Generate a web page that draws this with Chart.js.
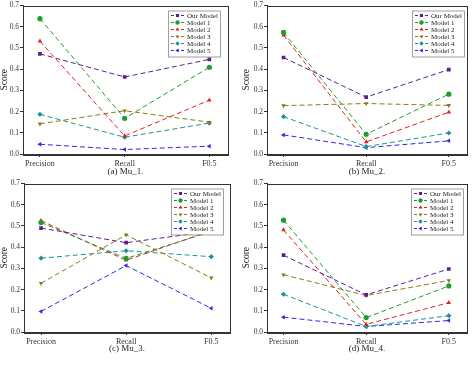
<!DOCTYPE html>
<html>
<head>
<meta charset="utf-8">
<script src="https://cdn.jsdelivr.net/npm/chart.js@4/dist/chart.umd.min.js"></script>
<style>
  html, body { margin: 0; padding: 0; background: #fff; }
  body { width: 474px; height: 367px; position: relative; overflow: hidden; }
  canvas { position: absolute; }
</style>
</head>
<body>
<canvas id="c1"></canvas>
<canvas id="c2"></canvas>
<canvas id="c3"></canvas>
<canvas id="c4"></canvas>
<script>
// categorias y modelos
const metrics = ['Precision', 'Recall', 'F0.5'];
const models = ['Our Model', 'Model 1', 'Model 2', 'Model 3', 'Model 4', 'Model 5'];
const yTicks = [0, 0.1, 0.2, 0.3, 0.4, 0.5, 0.6, 0.7];

// valores (una fila por modelo)
const mu1Scores = [
  [0.472, 0.363, 0.446],
  [0.638, 0.168, 0.409],
  [0.532, 0.085, 0.254],
  [0.142, 0.204, 0.150],
  [0.187, 0.079, 0.146],
  [0.046, 0.021, 0.037],
];
const mu2Scores = [
  [0.455, 0.268, 0.398],
  [0.573, 0.093, 0.282],
  [0.560, 0.057, 0.197],
  [0.228, 0.238, 0.229],
  [0.176, 0.035, 0.099],
  [0.090, 0.030, 0.062],
];
const mu3Scores = [
  [0.490, 0.421, 0.475],
  [0.516, 0.347, 0.473],
  [0.525, 0.338, 0.478],
  [0.230, 0.458, 0.255],
  [0.348, 0.383, 0.355],
  [0.097, 0.313, 0.112],
];
const mu4Scores = [
  [0.362, 0.175, 0.297],
  [0.527, 0.068, 0.217],
  [0.481, 0.036, 0.138],
  [0.270, 0.172, 0.243],
  [0.178, 0.026, 0.077],
  [0.070, 0.026, 0.054],
];

// estilo de cada serie
const colors = ['#5c1f8a', '#1e9e2e', '#e0221f', '#8c7b14', '#1a9494', '#2a2ae6'];
const markers = ['rect', 'circle', 'triangle', 'triangle', 'rectRot', 'triangle'];
const rotations = [0, 0, 0, 180, 0, -90];

const FONT = '"Liberation Serif", "DejaVu Serif", serif';
const TEXT = '#333';

// caja alrededor del area de trazado
const boxPlugin = {
  id: 'box',
  afterDraw(chart) {
    const a = chart.chartArea, ctx = chart.ctx;
    ctx.save();
    ctx.strokeStyle = '#333';
    ctx.lineWidth = 1;
    ctx.strokeRect(Math.round(a.left) + 0.5, Math.round(a.top) + 0.5,
      Math.round(a.right - a.left), Math.round(a.bottom - a.top));
    ctx.restore();
  }
};

// leyenda dentro del area, arriba a la derecha
const insideLegend = {
  id: 'insideLegend',
  afterDraw(chart, args, opts) {
    const a = chart.chartArea, ctx = chart.ctx;
    const w = 52, rowH = 7, h = rowH * models.length + 4;
    const x0 = a.right - w - (opts.gap || 5), y0 = a.top + 5;
    ctx.save();
    ctx.fillStyle = '#fff';
    ctx.fillRect(x0, y0, w, h);
    ctx.strokeStyle = '#888';
    ctx.lineWidth = 0.8;
    ctx.strokeRect(x0 + 0.5, y0 + 0.5, w, h);
    ctx.font = '7px ' + FONT;
    ctx.textBaseline = 'middle';
    chart.data.datasets.forEach((ds, i) => {
      const y = y0 + 5 + i * rowH;
      ctx.strokeStyle = ds.borderColor;
      ctx.lineWidth = 1;
      ctx.setLineDash([3, 2]);
      ctx.beginPath();
      ctx.moveTo(x0 + 3, y);
      ctx.lineTo(x0 + 16, y);
      ctx.stroke();
      ctx.setLineDash([]);
      ctx.fillStyle = ds.pointBackgroundColor;
      Chart.helpers.drawPoint(ctx, {
        pointStyle: ds.pointStyle, rotation: ds.pointRotation,
        radius: 2.2, borderWidth: 0
      }, x0 + 9.5, y);
      ctx.fillStyle = '#222';
      ctx.fillText(ds.label, x0 + 19, y + 0.5);
    });
    ctx.restore();
  }
};

function makePanel(id, scores, caption, p) {
  const cv = document.getElementById(id);
  cv.style.left = p.left + 'px';
  cv.style.top = p.top + 'px';
  cv.width = p.width;
  cv.height = p.height;

  const datasets = scores.map((vals, i) => ({
    label: models[i],
    data: vals.map((v, j) => ({ x: j, y: v })),
    borderColor: colors[i],
    backgroundColor: colors[i],
    pointBackgroundColor: colors[i],
    pointBorderColor: colors[i],
    pointStyle: markers[i],
    pointRotation: rotations[i],
    pointRadius: 2.6,
    pointBorderWidth: 0,
    borderWidth: 1,
    borderDash: [5, 3],
    tension: 0,
    fill: false,
  }));

  new Chart(cv, {
    type: 'line',
    data: { datasets },
    plugins: [boxPlugin, insideLegend],
    options: {
      responsive: false,
      animation: false,
      layout: { padding: { top: p.areaTop, right: p.width - p.areaRight, left: 0, bottom: 0 } },
      plugins: {
        legend: { display: false },
        tooltip: { enabled: false },
        insideLegend: { gap: p.legendGap },
      },
      scales: {
        x: {
          type: 'linear',
          min: -0.2,
          max: 2.22,
          afterFit(s) { s.height = p.height - p.areaBottom; },
          afterBuildTicks(s) { s.ticks = metrics.map((m, i) => ({ value: i })); },
          ticks: {
            callback: (v) => metrics[v],
            font: { family: FONT, size: 8 },
            color: TEXT,
            padding: 2,
            maxRotation: 0,
          },
          grid: { display: true, drawOnChartArea: false, drawTicks: true, tickLength: 3, color: '#333' },
          border: { display: true, color: '#333' },
          title: {
            display: true,
            text: caption,
            font: { family: FONT, size: 9 },
            color: '#222',
            padding: { top: 0, bottom: 1 },
          },
        },
        y: {
          min: 0,
          max: 0.7,
          afterFit(s) { s.width = p.areaLeft; },
          afterBuildTicks(s) { s.ticks = yTicks.map(v => ({ value: v })); },
          ticks: {
            callback: (v) => v.toFixed(1),
            font: { family: FONT, size: 7.5 },
            color: TEXT,
            padding: 1,
          },
          grid: { display: true, drawOnChartArea: false, drawTicks: true, tickLength: 3, color: '#333' },
          border: { display: true, color: '#333' },
          title: {
            display: true,
            text: 'Score',
            font: { family: FONT, size: 9.5, lineHeight: 1 },
            color: '#222',
            padding: { top: p.titlePad, bottom: 0 },
          },
        },
      },
    },
  });
}

makePanel('c1', mu1Scores, '(a) Mu_1.', { left: 0, top: 0, width: 237, height: 178, areaLeft: 23, areaTop: 3, areaRight: 228, areaBottom: 154, legendGap: 8, titlePad: 0 });
makePanel('c2', mu2Scores, '(b) Mu_2.', { left: 237, top: 0, width: 237, height: 178, areaLeft: 30, areaTop: 2, areaRight: 230, areaBottom: 154, legendGap: 3, titlePad: 5 });
makePanel('c3', mu3Scores, '(c) Mu_3.', { left: 0, top: 178, width: 237, height: 177, areaLeft: 24, areaTop: 2, areaRight: 230, areaBottom: 154, legendGap: 7, titlePad: 0 });
makePanel('c4', mu4Scores, '(d) Mu_4.', { left: 237, top: 178, width: 237, height: 177, areaLeft: 30, areaTop: 2, areaRight: 230, areaBottom: 154, legendGap: 4, titlePad: 5 });
</script>
</body>
</html>
